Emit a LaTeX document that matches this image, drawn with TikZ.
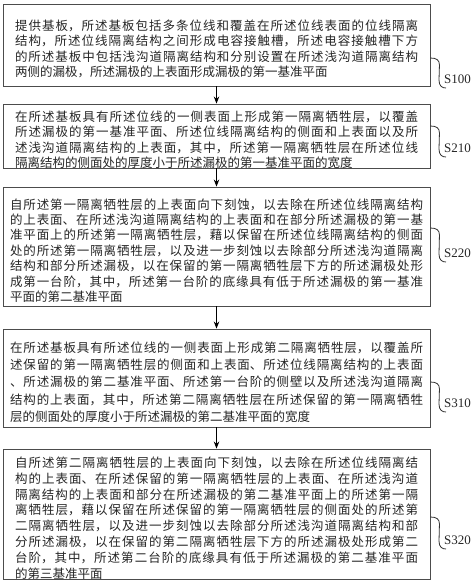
\documentclass[tikz,border=0pt]{standalone}
\usepackage{fontspec}
\newfontfamily\cjk{Noto Sans CJK SC}
\newfontfamily\labfont{Liberation Serif}
\XeTeXlinebreaklocale "zh"
\XeTeXlinebreakskip=0pt plus 3pt
\newcommand{\boxtail}{\endgraf\vspace{-8pt}}
\usetikzlibrary{arrows.meta,calc}
\begin{document}
\begin{tikzpicture}[x=1pt,y=-1pt,
  stepbox/.style={draw=black!70, line width=0.9pt, rectangle, minimum width=427pt,
    inner xsep=0pt, inner ysep=0pt, align=justify,
    font=\cjk\fontsize{12.5}{15.4}\selectfont, text=black!85,
    execute at end node=\boxtail},
  flow/.style={-{Stealth[length=7pt,width=5.5pt]}, line width=0.8pt, black},
  lab/.style={font=\labfont\fontsize{13}{13}\selectfont, anchor=west, inner sep=0pt, text=black!85},
  wig/.style={line width=0.8pt, black!80}]
\useasboundingbox (0,0) rectangle (474,583);

\node[stepbox, minimum height=82pt, text width=403pt] (b1) at (216.5,45) {%
提供基板，所述基板包括多条位线和覆盖在所述位线表面的位线隔离\linebreak
结构，所述位线隔离结构之间形成电容接触槽，所述电容接触槽下方\linebreak
的所述基板中包括浅沟道隔离结构和分别设置在所述浅沟道隔离结构\linebreak
两侧的漏极，所述漏极的上表面形成漏极的第一基准平面};

\node[stepbox, minimum height=64pt, text width=403pt] (b2) at (216.5,136) {%
在所述基板具有所述位线的一侧表面上形成第一隔离牺牲层，以覆盖\linebreak
所述漏极的第一基准平面、所述位线隔离结构的侧面和上表面以及所\linebreak
述浅沟道隔离结构的上表面，其中，所述第一隔离牺牲层在所述位线\linebreak
隔离结构的侧面处的厚度小于所述漏极的第一基准平面的宽度};

\node[stepbox, minimum height=119pt, text width=413pt] (b3) at (216.5,246.5) {%
自所述第一隔离牺牲层的上表面向下刻蚀，以去除在所述位线隔离结构\linebreak
的上表面、在所述浅沟道隔离结构的上表面和在部分所述漏极的第一基\linebreak
准平面上的所述第一隔离牺牲层，藉以保留在所述位线隔离结构的侧面\linebreak
处的所述第一隔离牺牲层，以及进一步刻蚀以去除部分所述浅沟道隔离\linebreak
结构和部分所述漏极，以在保留的第一隔离牺牲层下方的所述漏极处形\linebreak
成第一台阶，其中，所述第一台阶的底缘具有低于所述漏极的第一基准\linebreak
平面的第二基准平面};

\node[stepbox, minimum height=98pt, text width=413pt,
  font=\cjk\fontsize{12.5}{17.3}\selectfont] (b4) at (216.5,378) {%
在所述基板具有所述位线的一侧表面上形成第二隔离牺牲层，以覆盖所\linebreak
述保留的第一隔离牺牲层的侧面和上表面、所述位线隔离结构的上表面\linebreak
、所述漏极的第二基准平面、所述第一台阶的侧壁以及所述浅沟道隔离\linebreak
结构的上表面，其中，所述第二隔离牺牲层在所述保留的第一隔离牺牲\linebreak
层的侧面处的厚度小于所述漏极的第二基准平面的宽度};

\node[stepbox, minimum height=130pt, text width=403pt,
  font=\cjk\fontsize{12.5}{15.8}\selectfont] (b5) at (216.5,514) {%
自所述第二隔离牺牲层的上表面向下刻蚀，以去除在所述位线隔离结\linebreak
构的上表面、在所述保留的第一隔离牺牲层的上表面、在所述浅沟道\linebreak
隔离结构的上表面和部分在所述漏极的第二基准平面上的所述第一隔\linebreak
离牺牲层，藉以保留在所述保留的第一隔离牺牲层的侧面处的所述第\linebreak
二隔离牺牲层，以及进一步刻蚀以去除部分所述浅沟道隔离结构和部\linebreak
分所述漏极，以在保留的第二隔离牺牲层下方的所述漏极处形成第二\linebreak
台阶，其中，所述第二台阶的底缘具有低于所述漏极的第二基准平面\linebreak
的第三基准平面};

\draw[flow] (b1) -- (b2);
\draw[flow] (b2) -- (b3);
\draw[flow] (b3) -- (b4);
\draw[flow] (b4) -- (b5);

% labels
\node[lab] (l1) at (444,79) {S100};
\node[lab] (l2) at (444,148) {S210};
\node[lab] (l3) at (444,253) {S220};
\node[lab] (l4) at (444,403) {S310};
\node[lab] (l5) at (444,540) {S320};

\coordinate (s1) at (b1.east |- 0,58);
\coordinate (s2) at (b2.east |- 0,126);
\coordinate (s3) at (b3.east |- 0,228);
\coordinate (s4) at (b4.east |- 0,382);
\coordinate (s5) at (b5.east |- 0,517);

\foreach \i in {1,...,5}{
  \draw[wig] (s\i) .. controls +(6,0) and +(0,-5) .. ++(9,7)
    -- ([shift={(-5,1)}]l\i.west)
    .. controls +(0,6) and +(-4,0) .. ([shift={(2,9)}]l\i.west);
}
\end{tikzpicture}
\end{document}
